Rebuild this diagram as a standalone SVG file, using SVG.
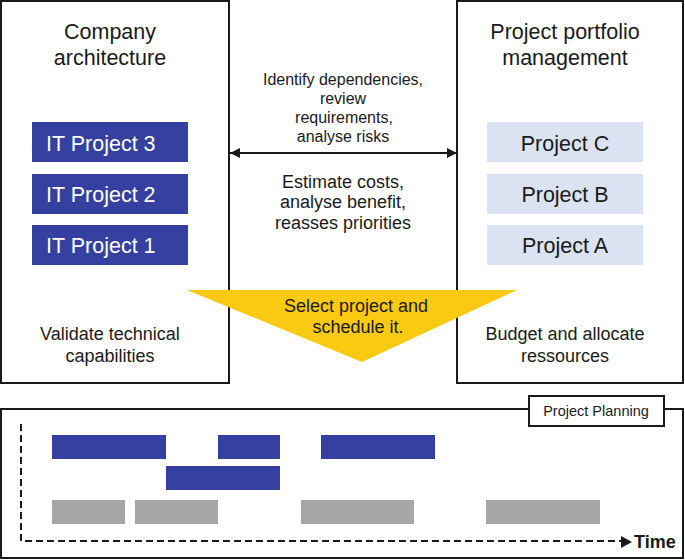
<svg xmlns="http://www.w3.org/2000/svg" width="685" height="560" viewBox="0 0 685 560">
<style>
text{font-family:"Liberation Sans",Arial,sans-serif;fill:#1a1a1a}
.frame{fill:#fff;stroke:#1a1a1a;stroke-width:2}
.it{fill:#3640a0}
.pp{fill:#dbe2f1}
.gray{fill:#a6a6a6}
.head{font-size:21.5px;text-anchor:middle}
.itt{font-size:21.5px;fill:#fff}
.ppt{font-size:21.5px;text-anchor:middle}
.mid{font-size:16px;text-anchor:middle}
.lbl{font-size:18px;text-anchor:middle}
.dash{fill:none;stroke:#1a1a1a;stroke-width:2;stroke-dasharray:7 4}
</style>
<defs>
<marker id="ah" viewBox="0 0 10 10" refX="10" refY="5" markerWidth="10" markerHeight="10" markerUnits="userSpaceOnUse" orient="auto-start-reverse">
<path d="M0,0 L10,5 L0,10 Z" fill="#1a1a1a"/>
</marker>
</defs>

<g id="company-architecture">
<rect class="frame" x="1" y="1" width="228" height="382"/>
<text class="head" x="110" y="39">Company</text>
<text class="head" x="110" y="65">architecture</text>
<text class="lbl" x="110" y="340">Validate technical</text>
<text class="lbl" x="110" y="362">capabilities</text>
</g>
<g id="it-project-3"><rect class="it" x="32" y="122" width="156" height="40"/><text class="itt" x="46" y="151">IT Project 3</text></g>
<g id="it-project-2"><rect class="it" x="32" y="174" width="156" height="40"/><text class="itt" x="46" y="202">IT Project 2</text></g>
<g id="it-project-1"><rect class="it" x="32" y="225" width="156" height="40"/><text class="itt" x="46" y="253">IT Project 1</text></g>

<g id="project-portfolio-management">
<rect class="frame" x="457" y="1" width="226" height="382"/>
<text class="head" x="565" y="39">Project portfolio</text>
<text class="head" x="565" y="65">management</text>
<text class="lbl" x="565" y="340">Budget and allocate</text>
<text class="lbl" x="565" y="362">ressources</text>
</g>
<g id="project-c"><rect class="pp" x="487" y="122" width="156" height="40"/><text class="ppt" x="565" y="151">Project C</text></g>
<g id="project-b"><rect class="pp" x="487" y="174" width="156" height="40"/><text class="ppt" x="565" y="202">Project B</text></g>
<g id="project-a"><rect class="pp" x="487" y="225" width="156" height="40"/><text class="ppt" x="565" y="253">Project A</text></g>

<g id="select-project">
<polygon points="187,290 517,290 362,362" fill="#fac912"/>
<text class="lbl" x="356" y="312">Select project and</text>
<text class="lbl" x="358" y="333">schedule it.</text>
</g>

<g id="connectors">
<line x1="230" y1="153" x2="457" y2="153" stroke="#1a1a1a" stroke-width="2" marker-start="url(#ah)" marker-end="url(#ah)"/>
<text class="mid" x="343" y="85">Identify dependencies,</text>
<text class="mid" x="343" y="104">review</text>
<text class="mid" x="344" y="123">requirements,</text>
<text class="mid" x="343" y="142">analyse risks</text>
<text class="lbl" x="343" y="188">Estimate costs,</text>
<text class="lbl" x="343" y="208">analyse benefit,</text>
<text class="lbl" x="343" y="229">reasses priorities</text>
</g>

<g id="project-planning">
<rect class="frame" x="1" y="409" width="682" height="149"/>
<rect class="frame" x="529" y="396" width="135" height="30"/>
<text x="596" y="416" style="font-size:14.5px;text-anchor:middle">Project Planning</text>
<rect class="it" x="52" y="435" width="114" height="24"/>
<rect class="it" x="218" y="435" width="62" height="24"/>
<rect class="it" x="321" y="435" width="114" height="24"/>
<rect class="it" x="166" y="466" width="114" height="24"/>
<rect class="gray" x="52" y="500" width="73" height="24"/>
<rect class="gray" x="135" y="500" width="83" height="24"/>
<rect class="gray" x="301" y="500" width="113" height="24"/>
<rect class="gray" x="486" y="500" width="114" height="24"/>
<path class="dash" d="M21,424 V541 H621"/>
<polygon points="621,536 632,542 621,548" fill="#1a1a1a"/>
<text x="634" y="548" style="font-size:18px;font-weight:bold">Time</text>
</g>
</svg>
